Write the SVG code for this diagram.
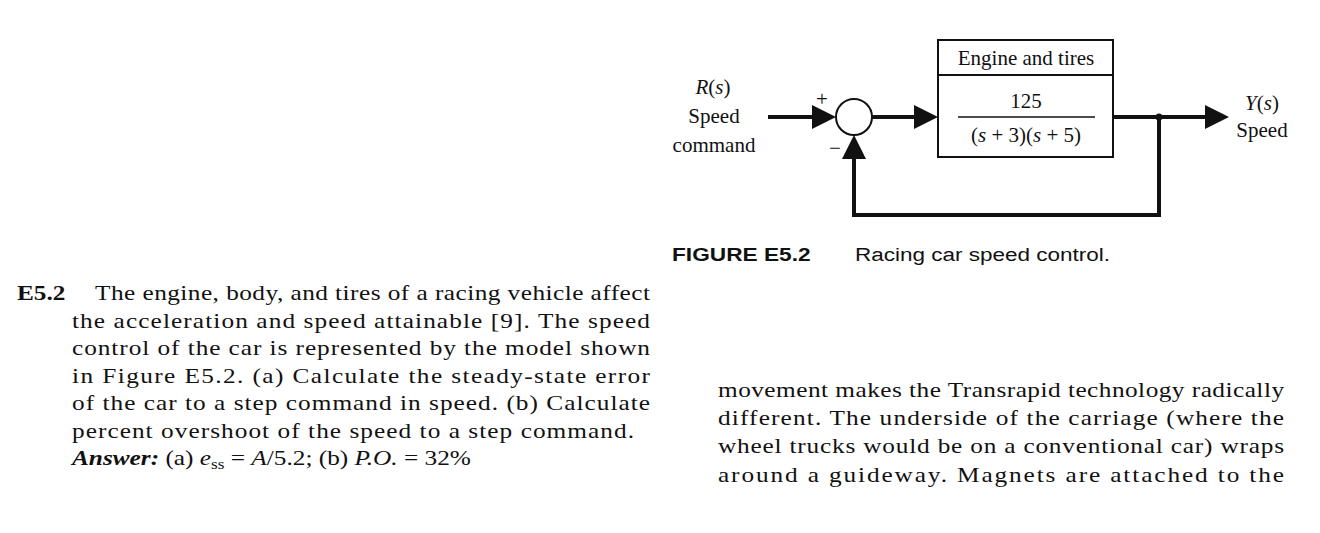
<svg xmlns="http://www.w3.org/2000/svg" width="1320" height="533" viewBox="0 0 1320 533">
<style>
text{font-family:"Liberation Serif",serif;fill:#111}
.t{font-size:22px}
.s{font-size:21px}
.f{font-family:"Liberation Sans",sans-serif;font-size:18px}
.c{stroke:#111;stroke-width:4;fill:none}
</style>
<defs><marker id="a" markerWidth="6" markerHeight="6" refX="5" refY="3" orient="auto" markerUnits="strokeWidth"><path d="M0,0L6,3L0,6Z" fill="#111"/></marker></defs>
<rect width="1320" height="533" fill="#fff"/>
<g id="sum"><circle cx="854" cy="117" r="18" fill="#fff" stroke="#111" stroke-width="2"/></g>
<g id="plant"><rect x="938" y="40" width="175" height="117" fill="#fff" stroke="#111" stroke-width="2"/><line x1="938" y1="75" x2="1113" y2="75" stroke="#111" stroke-width="2"/>
<text class="s" x="1026" y="65" text-anchor="middle">Engine and tires</text>
<text class="s" x="1026" y="108" text-anchor="middle">125</text>
<line x1="958" y1="117" x2="1095" y2="117" stroke="#111" stroke-width="1.5"/>
<text class="s" x="1026" y="142" text-anchor="middle">(<tspan font-style="italic">s</tspan> + 3)(<tspan font-style="italic">s</tspan> + 5)</text></g>
<g id="connectors">
<path class="c" d="M768,117H832" marker-end="url(#a)"/>
<path class="c" d="M872,117H934" marker-end="url(#a)"/>
<path class="c" d="M1113,117H1225" marker-end="url(#a)"/>
<path class="c" d="M1159,117V215H854V139" marker-end="url(#a)"/>
<circle cx="1159" cy="117" r="3.5" fill="#111"/>
</g>
<g id="labels">
<text class="s" x="713" y="94" text-anchor="middle"><tspan font-style="italic">R</tspan>(<tspan font-style="italic">s</tspan>)</text>
<text class="s" x="714" y="123" text-anchor="middle">Speed</text>
<text class="s" x="714" y="152" text-anchor="middle">command</text>
<text class="s" x="822" y="106" text-anchor="middle">+</text>
<text class="s" x="835" y="155" text-anchor="middle">−</text>
<text class="s" x="1262" y="110" text-anchor="middle"><tspan font-style="italic">Y</tspan>(<tspan font-style="italic">s</tspan>)</text>
<text class="s" x="1262" y="137" text-anchor="middle">Speed</text>
</g>
<text class="f" transform="translate(672,261) scale(1.26,1)" font-weight="bold">FIGURE E5.2</text>
<text class="f" transform="translate(855,261) scale(1.25,1)">Racing car speed control.</text>
<g>
<text class="t" transform="translate(17,300) scale(1.15,1)" font-weight="bold">E5.2</text>
<text class="t" transform="translate(95,300) scale(1.15,1)" textLength="482.6">The engine, body, and tires of a racing vehicle affect</text>
<text class="t" transform="translate(72,327.5) scale(1.15,1)" textLength="502.6">the acceleration and speed attainable [9]. The speed</text>
<text class="t" transform="translate(72,355) scale(1.15,1)" textLength="502.6">control of the car is represented by the model shown</text>
<text class="t" transform="translate(72,382.5) scale(1.15,1)" textLength="502.6">in Figure E5.2. (a) Calculate the steady-state error</text>
<text class="t" transform="translate(72,410) scale(1.15,1)" textLength="502.6">of the car to a step command in speed. (b) Calculate</text>
<text class="t" transform="translate(72,437.5) scale(1.15,1)" textLength="488.7">percent overshoot of the speed to a step command.</text>
<text class="t" transform="translate(72,465) scale(1.15,1)"><tspan font-weight="bold" font-style="italic">Answer:</tspan> (a) <tspan font-style="italic">e</tspan><tspan font-size="15" dy="4">ss</tspan><tspan dy="-4"> = </tspan><tspan font-style="italic">A</tspan>/5.2;  (b) <tspan font-style="italic">P.O.</tspan> = 32%</text>
<text class="t" transform="translate(718,397) scale(1.15,1)" textLength="492.2">movement makes the Transrapid technology radically</text>
<text class="t" transform="translate(718,425) scale(1.15,1)" textLength="492.2">different. The underside of the carriage (where the</text>
<text class="t" transform="translate(718,453) scale(1.15,1)" textLength="492.2">wheel trucks would be on a conventional car) wraps</text>
<text class="t" transform="translate(718,482) scale(1.15,1)" textLength="492.2">around a guideway. Magnets are attached to the</text>
</g>
</svg>
